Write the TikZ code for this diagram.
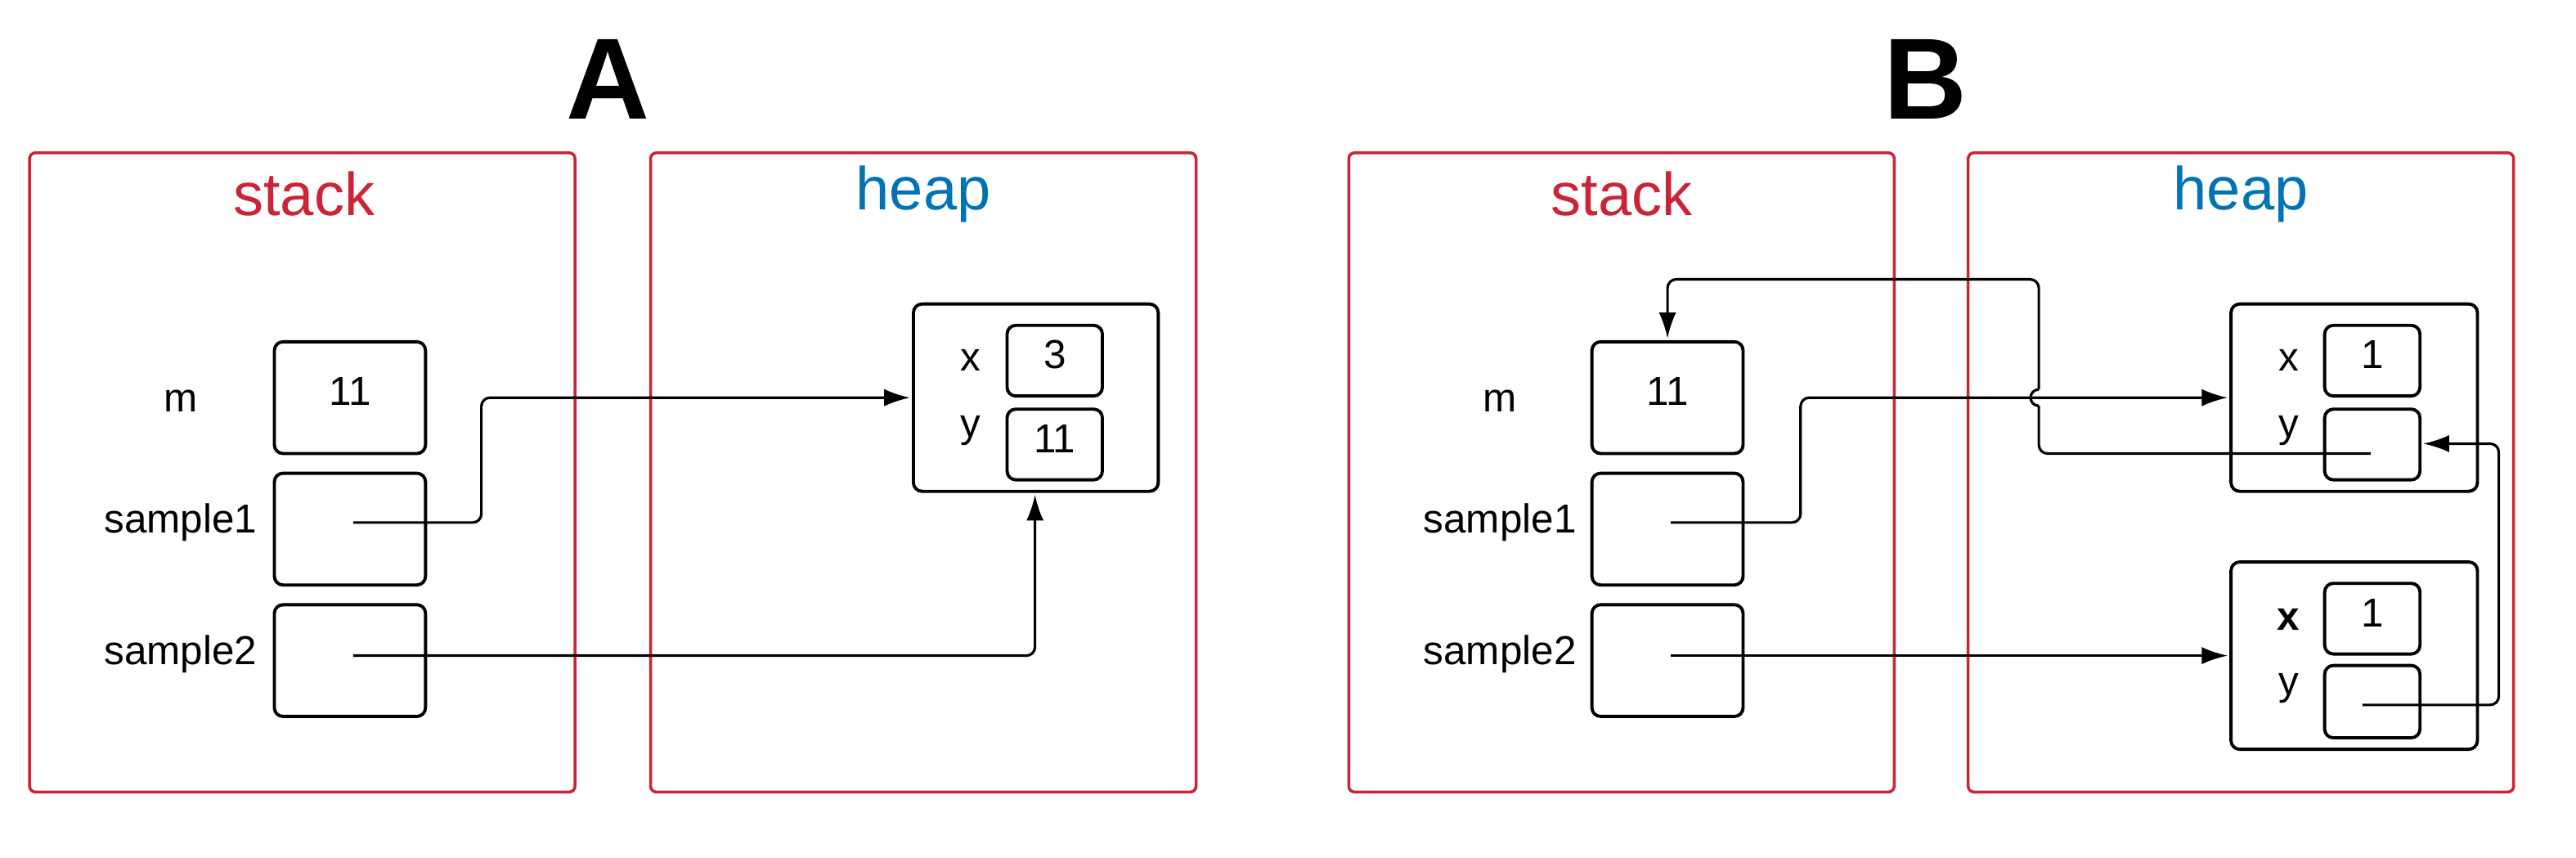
\documentclass[tikz,border=0pt]{standalone}
\usepackage{fontspec}
\setmainfont{Liberation Sans}
\usetikzlibrary{arrows.meta}
\definecolor{sred}{RGB}{205,35,55}
\definecolor{hblue}{RGB}{0,115,180}
\begin{document}
\begin{tikzpicture}[x=0.02cm,y=-0.02cm,
  panel/.style={draw=sred,line width=1pt,rounded corners=2pt},
  box/.style={draw,line width=1.1pt,rounded corners=3pt},
  lbl/.style={font=\fontsize{14}{16}\selectfont,inner sep=0pt},
  ttl/.style={font=\fontsize{21}{24}\selectfont,inner sep=0pt},
  big/.style={font=\fontsize{40}{44}\selectfont\bfseries,inner sep=0pt},
  conn/.style={line width=0.9pt,rounded corners=3pt},
  arr/.style={conn,-{Latex[length=9pt,width=6pt]}}]
\useasboundingbox (0,0) rectangle (1568,522);
% ---------- A ----------
\node[big] (tA) at (370,48) {A};
\draw[panel] (18,93) rectangle (350,482); \coordinate (stA) at (18,93);
\draw[panel] (396,93) rectangle (728,482);
\node[ttl,text=sred] (stackA) at (185,118) {stack};
\node[ttl,text=hblue] (heapA) at (562,118) {heap};
\node[lbl] (mA) at (110,244) {m};
\node[lbl] (s1A) at (110,318) {sample1};
\node[lbl] (s2A) at (110,398) {sample2};
\draw[box] (167,208) rectangle (259,276); \node[lbl] (vmA) at (213,238) {11};
\draw[box] (167,288) rectangle (259,356);
\draw[box] (167,368) rectangle (259,436);
\draw[box] (556,185) rectangle (705,299);
\node[lbl] (oxA) at (591,219) {x};
\node[lbl] (oyA) at (591,262) {y};
\draw[box] (613,198) rectangle (671,241); \node[lbl] (vxA) at (642,216) {3};
\draw[box] (613,249) rectangle (671,292); \node[lbl] (vyA) at (642,267) {11};
\coordinate (a1s) at (215,318); \coordinate (a1e) at (554,242);
\coordinate (a2s) at (215,399); \coordinate (a2e) at (630,301);
\draw[arr] (a1s) -- (293,318) -- (293,242) -- (a1e);
\draw[arr] (a2s) -- (630,399) -- (a2e);
% ---------- B ----------
\node[big] (tB) at (1172,48) {B};
\draw[panel] (821,93) rectangle (1153,482);
\draw[panel] (1198,93) rectangle (1530,482);
\node[ttl,text=sred] (stackB) at (987,118) {stack};
\node[ttl,text=hblue] (heapB) at (1364,118) {heap};
\node[lbl] (mB) at (913,244) {m};
\node[lbl] (s1B) at (913,318) {sample1};
\node[lbl] (s2B) at (913,398) {sample2};
\draw[box] (969,208) rectangle (1061,276); \node[lbl] (vmB) at (1015,238) {11};
\draw[box] (969,288) rectangle (1061,356);
\draw[box] (969,368) rectangle (1061,436);
\draw[box] (1358,185) rectangle (1508,299);
\node[lbl] (ox1) at (1393,219) {x};
\node[lbl] (oy1) at (1393,262) {y};
\draw[box] (1415,198) rectangle (1473,241); \node[lbl] (vx1) at (1444,216) {1};
\draw[box] (1415,249) rectangle (1473,292);
\draw[box] (1358,342) rectangle (1508,456);
\node[lbl,font=\fontsize{14}{16}\selectfont\bfseries] (ox2) at (1393,377) {x};
\node[lbl] (oy2) at (1393,419) {y};
\draw[box] (1415,355) rectangle (1473,398); \node[lbl] (vx2) at (1444,373) {1};
\draw[box] (1415,405) rectangle (1473,449);
\coordinate (b1s) at (1017,318); \coordinate (b1e) at (1356,242);
\coordinate (b2s) at (1017,399); \coordinate (b2e) at (1356,399);
\coordinate (b3s) at (1443,276); \coordinate (b3e) at (1015,206);
\coordinate (b4s) at (1438,429); \coordinate (b4e) at (1475,270);
\draw[arr] (b1s) -- (1096,318) -- (1096,242) -- (b1e);
\draw[arr] (b2s) -- (b2e);
\draw[conn] (b3s) -- (1241,276) -- (1241,247);
\draw[conn] (1241,247) arc[start angle=90,end angle=270,radius=5];
\draw[arr] (1241,237) -- (1241,170) -- (1015,170) -- (b3e);
\draw[arr] (b4s) -- (1521,429) -- (1521,270) -- (b4e);
\end{tikzpicture}
\end{document}
